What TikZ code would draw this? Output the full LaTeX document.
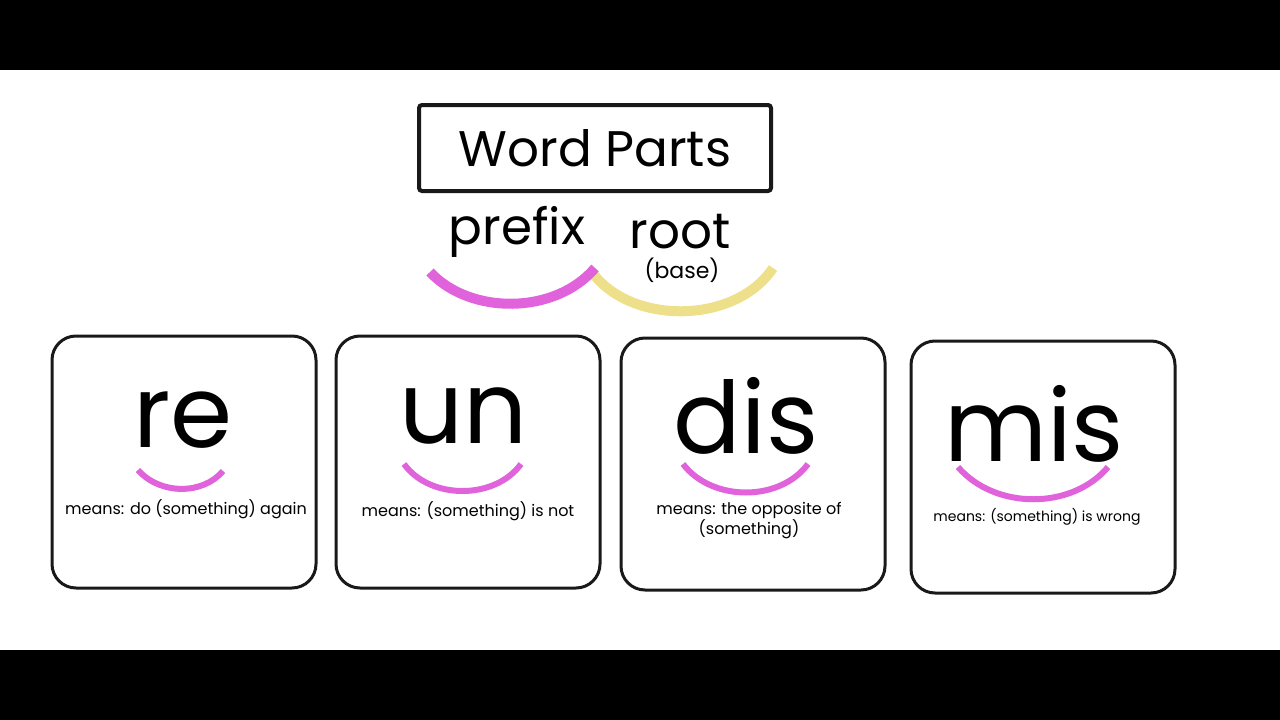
\documentclass[tikz,border=0pt]{standalone}
\usepackage{fontspec}
\setmainfont{Poppins}
\definecolor{pink}{HTML}{E063DC}
\definecolor{yel}{HTML}{EEE08A}
\begin{document}
\begin{tikzpicture}[x=1pt,y=-1pt,
  card/.style={draw=black!90,line width=3pt,rounded corners=24pt},
  smile/.style={line width=6pt,pink},
  captext/.style={font=\fontsize{16}{20}\selectfont,align=center},
  big/.style={font=\fontsize{100}{100}\selectfont}]
\useasboundingbox (0,0) rectangle (1280,720);
\fill[black] (0,0) rectangle (1280,70);
\fill[black] (0,650) rectangle (1280,720);
\node[draw=black!90,line width=4pt,rounded corners=3pt,minimum width=352pt,minimum height=86pt,font=\fontsize{50}{50}\selectfont] (title) at (595,148) {Word Parts};
\node[font=\fontsize{50}{50}\selectfont] (prefix) at (517,232) {prefix};
\node[font=\fontsize{50}{50}\selectfont] (root) at (680,232) {root};
\node[font=\fontsize{22}{22}\selectfont] (base) at (682,270) {(base)};
\draw[line width=10pt,yel] (592,272) .. controls (630,325) and (735,325) .. (773,268);
\draw[line width=10pt,pink] (430,272) .. controls (470,315) and (555,315) .. (595,268);
\node[card,minimum width=264pt,minimum height=252pt] (c1) at (184,462) {};
\node[card,minimum width=264pt,minimum height=252pt] (c2) at (468,462) {};
\node[card,minimum width=264pt,minimum height=252pt] (c3) at (753,464) {};
\node[card,minimum width=264pt,minimum height=252pt] (c4) at (1043,467) {};
\node[big] (w1) at (183,420) {re};
\node[big] (w2) at (463,416) {un};
\node[big] (w3) at (746,416) {dis};
\node[big] (w4) at (1034,424) {mis};
\draw[smile] (138,470) .. controls (160,495) and (203,495) .. (223,471);
\draw[smile] (404,464) .. controls (430,500) and (495,500) .. (521,464);
\draw[smile] (683,464) .. controls (712,502) and (780,502) .. (808,464);
\draw[smile] (958,467) .. controls (995,510) and (1072,510) .. (1108,467);
\node[captext] (m1) at (186,509) {means: do (something) again};
\node[captext] (m2) at (468,511) {means: (something) is not};
\node[captext] (m3) at (749,521) {means: the opposite of\\(something)};
\node[captext,font=\fontsize{14}{18}\selectfont] (m4) at (1037,517) {means: (something) is wrong};
\end{tikzpicture}
\end{document}
